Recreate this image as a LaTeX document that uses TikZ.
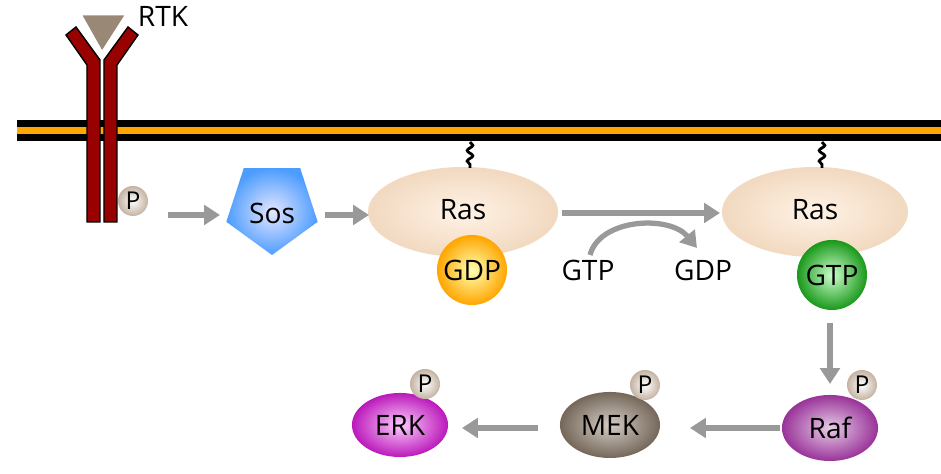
\documentclass[tikz,border=0pt]{standalone}
\usepackage{fontspec}
\setmainfont{Open Sans}
\usetikzlibrary{arrows.meta,shapes.geometric,decorations.pathmorphing}
\begin{document}
\begin{tikzpicture}[x=0.01cm,y=-0.01cm,
  flow/.style={line width=1.5pt,draw=black!40,-{Triangle[length=4.5pt,width=5.5pt]}},
  phos/.style={circle,minimum size=0.3cm,inner sep=0pt,draw=none,shading=radial,inner color=white,outer color=brown!45!gray!60,font=\scriptsize},
  lbl/.style={font=\footnotesize,inner sep=0pt},
  anchorwig/.style={line width=0.8pt,decorate,decoration={snake,amplitude=0.8pt,segment length=3pt}}]
\useasboundingbox (0,0) rectangle (941,474);
% membrane
\fill[black] (17,120) rectangle (941,141);
\fill[orange!70!yellow] (17,127) rectangle (941,134);
% RTK
\begin{scope}[draw=black,line width=0.4pt,fill=red!60!black]
\filldraw (87,222) -- (87,65) -- (66,35) -- (76,27) -- (100,60) -- (100,222) -- cycle;
\filldraw (117,222) -- (117,65) -- (138,35) -- (128,27) -- (104,60) -- (104,222) -- cycle;
\end{scope}
\filldraw[fill=black!55!brown!60,draw=white,line width=0.8pt] (80,14) -- (127,14) -- (102,53) -- cycle;
\node[lbl] (rtk) at (163,16) {RTK};
\node[phos] (p0) at (133,201) {P};
% Sos
\node[regular polygon,regular polygon sides=5,shape border rotate=180,minimum size=0.96cm,inner sep=0pt,
  shading=radial,inner color=blue!10,outer color=blue!55!cyan!70] (sos) at (272,207) {};
\node[lbl] (sost) at (272,213) {Sos};
% Ras GDP
\node[ellipse,minimum width=1.9cm,minimum height=0.9cm,shading=radial,inner color=orange!10,outer color=orange!30!brown!30] (ras1) at (463,212) {};
\node[lbl] (ras1t) at (463,210) {Ras};
\node[circle,minimum size=0.7cm,shading=radial,inner color=yellow!30,outer color=orange!70!yellow,lbl] (gdp1) at (472,270) {GDP};
\coordinate (w1a) at (470,142); \coordinate (w1b) at (470,168);
\draw[anchorwig] (w1a) -- (w1b);
% Ras GTP
\node[ellipse,minimum width=1.86cm,minimum height=0.9cm,shading=radial,inner color=orange!10,outer color=orange!30!brown!30] (ras2) at (815,212) {};
\node[lbl] (ras2t) at (815,210) {Ras};
\node[circle,minimum size=0.7cm,shading=radial,inner color=green!20,outer color=green!55!black!90,lbl] (gtp2) at (832,275) {GTP};
\coordinate (w2a) at (822,142); \coordinate (w2b) at (822,168);
\draw[anchorwig] (w2a) -- (w2b);
% exchange
\node[lbl] (gtp) at (588,270) {GTP};
\node[lbl] (gdp) at (703,270) {GDP};
\coordinate (x1) at (562,213); \coordinate (x2) at (720,213);
\draw[flow] (x1) -- (x2);
\coordinate (c1) at (590,255); \coordinate (c2) at (697,248);
\draw[flow] (c1) .. controls (600,218) and (670,215) .. (c2);
% cascade
\node[ellipse,minimum width=0.96cm,minimum height=0.66cm,shading=radial,inner color=violet!20,outer color=violet!80,lbl] (raf) at (830,428) {Raf};
\node[phos] (p3) at (862,385) {P};
\node[ellipse,minimum width=1.0cm,minimum height=0.66cm,shading=radial,inner color=brown!30!gray!40,outer color=brown!30!black!70,lbl] (mek) at (610,425) {MEK};
\node[phos] (p2) at (645,385) {P};
\node[ellipse,minimum width=0.96cm,minimum height=0.64cm,shading=radial,inner color=magenta!20,outer color=magenta!70!black!90,lbl] (erk) at (400,425) {ERK};
\node[phos] (p1) at (425,384) {P};
\coordinate (a1) at (168,215); \coordinate (a2) at (220,215);
\coordinate (b1) at (325,215); \coordinate (b2) at (369,215);
\draw[flow] (a1) -- (a2);
\draw[flow] (b1) -- (b2);
\coordinate (r1) at (830,323); \coordinate (r2) at (830,384);
\draw[flow] (r1) -- (r2);
\coordinate (m1) at (780,428); \coordinate (m2) at (690,428);
\coordinate (e1) at (538,428); \coordinate (e2) at (462,428);
\draw[flow] (m1) -- (m2);
\draw[flow] (e1) -- (e2);
\end{tikzpicture}
\end{document}
